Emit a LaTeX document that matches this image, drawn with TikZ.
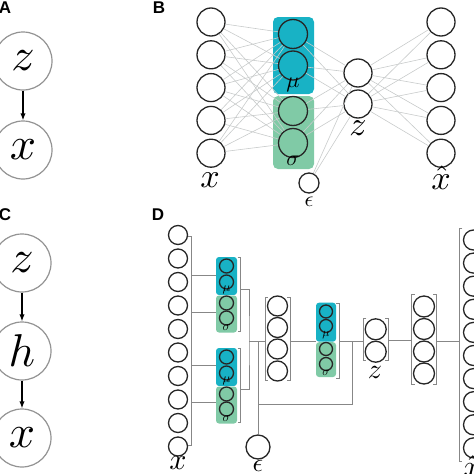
\documentclass[tikz,border=0pt]{standalone}
\usepackage{fontspec}
\newfontfamily\panelfont{Liberation Sans}
\usetikzlibrary{arrows.meta}
\definecolor{mucol}{RGB}{24,178,197}
\definecolor{sigcol}{RGB}{128,202,166}
\definecolor{wirecol}{RGB}{200,203,203}
\definecolor{brkcol}{RGB}{135,135,135}
\tikzset{
  panel/.style={font=\panelfont\bfseries\fontsize{17}{17}\selectfont},
  gnode/.style={circle, draw=gray!85, line width=1.2pt, minimum size=58pt, inner sep=0pt},
  unit/.style={circle, draw=black!85, line width=1.3pt, minimum size=#1, inner sep=0pt},
  unit/.default=28pt,
  wire/.style={draw=wirecol, line width=0.6pt},
  link/.style={draw=brkcol, line width=1pt},
  mubox/.style={fill=mucol, rounded corners=#1},
  sigbox/.style={fill=sigcol, rounded corners=#1},
  lbl/.style={font=\fontsize{10}{10}\selectfont, inner sep=0pt, scale=#1/10},
}
\newcommand{\gsym}[1]{\scalebox{4.6}{$#1$}}
% bracket: x, top, bottom, tick direction (+1 = "[" , -1 = "]")
\newcommand{\brkt}[4]{\draw[link] ({#1+3*#4},#2) -- (#1,#2) -- (#1,#3) -- ({#1+3*#4},#3);}
\begin{document}
\begin{tikzpicture}[x=1pt,y=-1pt]
\useasboundingbox (0,0) rectangle (474,474);
% A
\node[panel] (pA) at (5,8) {A};
\node[gnode] (Az) at (23,61) {\gsym{z}};
\node[gnode] (Ax) at (23,150) {\gsym{x}};
\draw[-{Latex[length=7pt]}, line width=1.3pt] (Az) -- (Ax);
% C
\node[panel] (pC) at (5,215) {C};
\node[gnode] (Cz) at (22,263) {\gsym{z}};
\node[gnode] (Ch) at (22,351) {\gsym{h}};
\node[gnode] (Cx) at (22,438) {\gsym{x}};
\draw[-{Latex[length=7pt]}, line width=1.3pt] (Cz) -- (Ch);
\draw[-{Latex[length=7pt]}, line width=1.3pt] (Ch) -- (Cx);
% B
\node[panel] (pB) at (159,8) {B};
\fill[mubox=5pt] (273,17) rectangle (314,94);
\fill[sigbox=5pt] (273,96) rectangle (314,169);
\foreach \i in {1,...,5}
  \node[unit] (bx\i) at (211,{22+32.8*(\i-1)}) {};
\foreach \i/\y in {1/34,2/65.5,3/111,4/143}
  \node[unit=29pt] (bh\i) at (293,\y) {};
\node[unit] (bz1) at (358,73) {};
\node[unit] (bz2) at (358,104) {};
\node[unit=20pt] (beps) at (309,183) {};
\foreach \i in {1,...,5}
  \node[unit] (bo\i) at (441,{22+32.8*(\i-1)}) {};
\foreach \i in {1,...,5}
  \foreach \j in {1,...,4}
    \draw[wire] (bx\i) -- (bh\j);
\foreach \j in {1,...,4}
  \foreach \k in {1,2}
    \draw[wire] (bh\j) -- (bz\k);
\foreach \k in {1,2}
  \draw[wire] (beps) -- (bz\k);
\foreach \k in {1,2}
  \foreach \i in {1,...,5}
    \draw[wire] (bz\k) -- (bo\i);
\node[lbl=34] (bxl) at (210,180) {$x$};
\node[lbl=22] (bmul) at (293,85) {$\mu$};
\node[lbl=22] (bsigl) at (293,161) {$\sigma$};
\node[lbl=34] (bzl) at (358,128) {$z$};
\node[lbl=22] (bepsl) at (309,202) {$\epsilon$};
\node[lbl=34] (bol) at (441,178) {$\hat{x}$};
% D
\node[panel] (pD) at (158,215) {D};
% input column
\foreach \i in {1,...,10}
  \node[unit=19pt] (dx\i) at (178,{235+23.5*(\i-1)}) {};
\brkt{191}{236}{445}{-1}
% encoder blocks
\foreach \t/\n in {257/a,348/b}{
  \fill[mubox=3pt] (216,\t) rectangle (237,\t+38);
  \fill[sigbox=3pt] (216,\t+38.5) rectangle (237,\t+75.5);
  \foreach \i/\d in {1/9,2/25,3/46,4/61}
    \node[unit=14pt] (de\n\i) at (226.5,\t+\d) {};
  \node[lbl=13] (de\n mu) at (226.5,\t+33) {$\mu$};
  \node[lbl=13] (de\n sig) at (226.5,\t+70.5) {$\sigma$};
  \brkt{240.5}{\t}{\t+74}{-1}
}
\coordinate (ina1) at (191,275);
\coordinate (ina2) at (191,312);
\coordinate (inb1) at (191,365);
\coordinate (inb2) at (191,402);
\draw[link] (ina1) -- (216,275);
\draw[link] (ina2) -- (216,312);
\draw[link] (inb1) -- (216,365);
\draw[link] (inb2) -- (216,402);
\coordinate (outa) at (240.5,289);
\coordinate (outb) at (240.5,389);
\coordinate (join) at (249,341.7);
\draw[link] (outa) -| (join) |- (outb);
% hidden encoder column
\foreach \i/\y in {1/306,2/327.5,3/349,4/371}
  \node[unit=20pt] (dh\i) at (277.5,\y) {};
\brkt{265}{297}{380}{1}
\brkt{290}{297}{380}{-1}
\draw[link] (join) -- (265,341.7);
% second block
\fill[mubox=3pt] (316,302.7) rectangle (336,341.7);
\fill[sigbox=3pt] (316,342.2) rectangle (336,377);
\foreach \i/\y in {1/311.5,2/326,3/349,4/364}
  \node[unit=13pt] (dm\i) at (326,\y) {};
\node[lbl=12] (dmmu) at (326,335.5) {$\mu$};
\node[lbl=12] (dmsig) at (326,372.5) {$\sigma$};
\brkt{339}{303}{378}{-1}
\draw[link] (290,341.7) -- (316,341.7);
% noise
\node[unit=24pt] (deps) at (258,447) {};
\coordinate (epsup) at (258,404);
\coordinate (epsin) at (352.7,341.7);
\draw[link] (deps) -- (258,341.7);
\draw[link] (epsup) -| (epsin);
\draw[link] (339,341.7) -- (363.3,341.7);
% latent column
\node[unit=21pt] (dz1) at (375.7,329.3) {};
\node[unit=21pt] (dz2) at (375.7,351.7) {};
\brkt{363.3}{318}{360}{1}
\brkt{388.3}{318}{360}{-1}
\draw[link] (388.3,340.5) -- (411.7,340.5);
% decoder column
\foreach \i/\y in {1/306.5,2/329,3/351.5,4/373.5}
  \node[unit=21pt] (dd\i) at (424,\y) {};
\brkt{411.7}{294}{384}{1}
\brkt{436}{294}{384}{-1}
\draw[link] (436,341) -- (459.3,341);
% output column
\foreach \i in {1,...,10}
  \node[unit=20pt] (do\i) at (473.5,{240+23.1*(\i-1)}) {};
\brkt{459.3}{228}{461}{1}
\node[lbl=30] (dxl) at (178,463) {$x$};
\node[lbl=26] (depsl) at (258,466) {$\epsilon$};
\node[lbl=28] (dzl) at (375,372) {$z$};
\node[lbl=30] (dol) at (472,466) {$\hat{x}$};
\end{tikzpicture}
\end{document}
